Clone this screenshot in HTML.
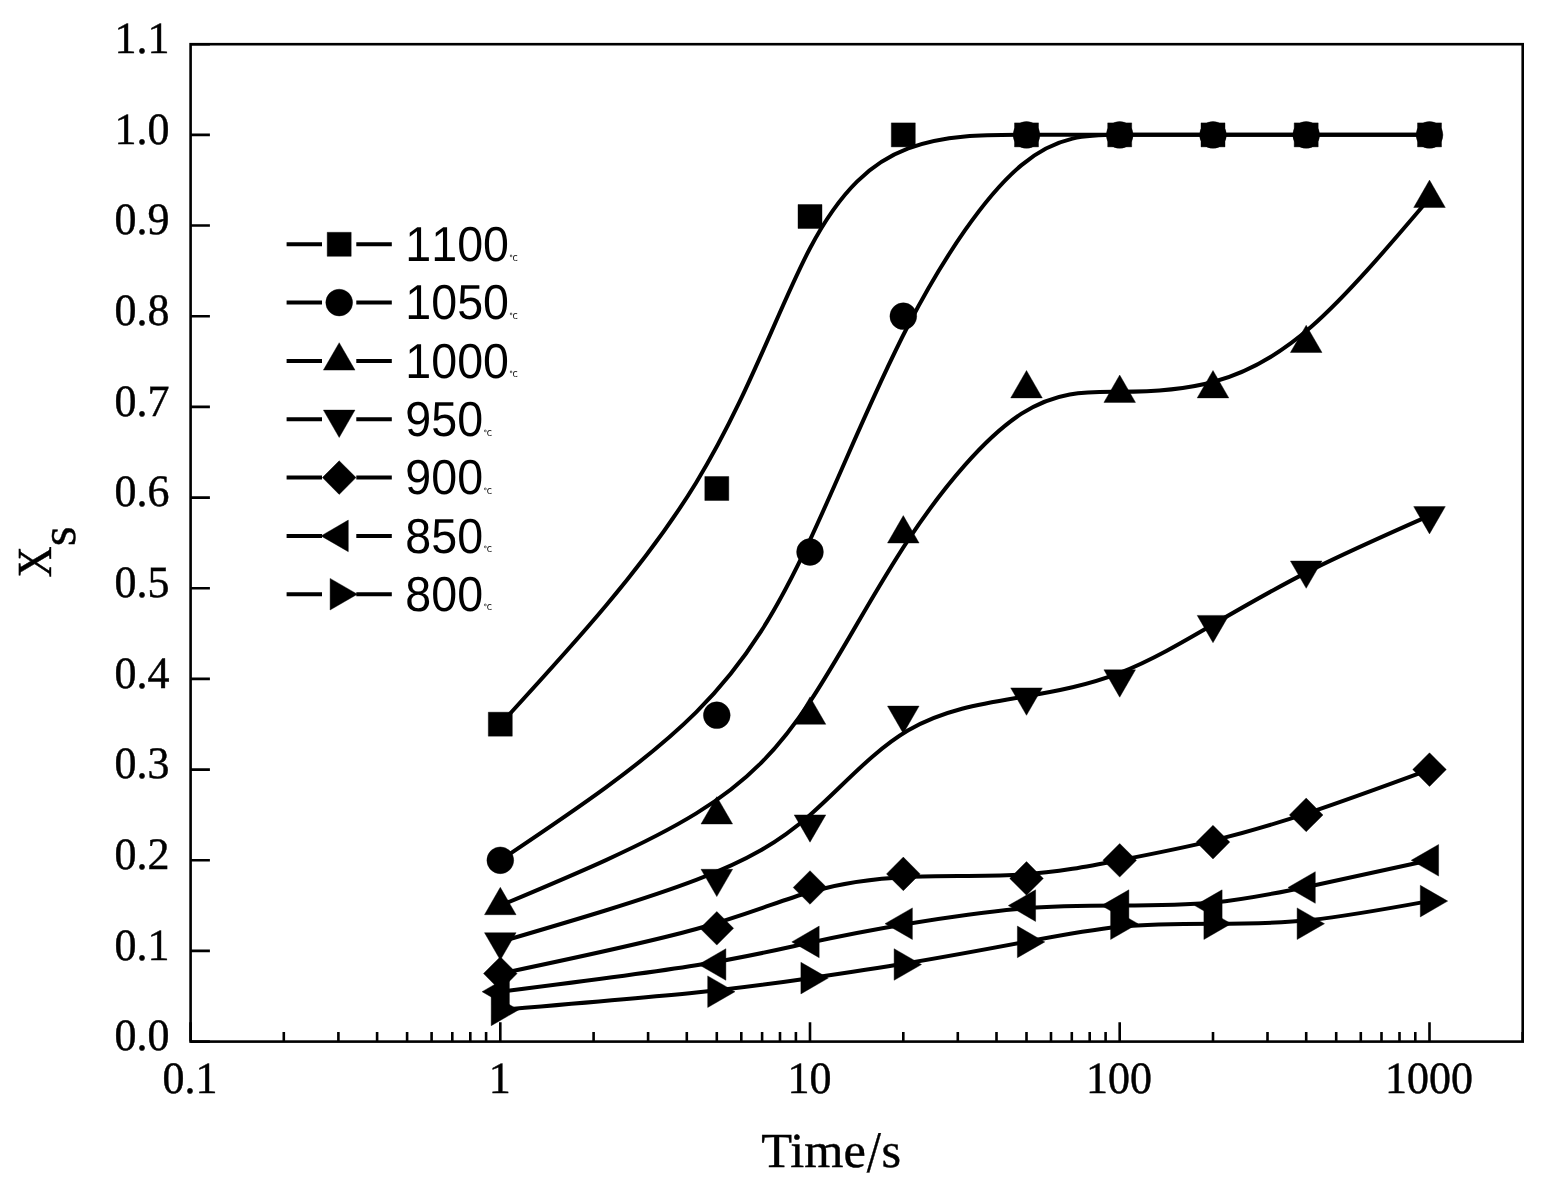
<!DOCTYPE html>
<html lang="en">
<head>
<meta charset="utf-8">
<title>Xs vs Time</title>
<style>
html,body{margin:0;padding:0;background:#fff;}
body{width:1542px;height:1192px;overflow:hidden;}
svg{display:block;}
text{text-rendering:geometricPrecision;}
</style>
</head>
<body>
<svg width="1542" height="1192" viewBox="0 0 1542 1192">
<rect width="1542" height="1192" fill="#fff"/>
<rect x="190.6" y="44.2" width="1332.1" height="997.4" fill="none" stroke="#000" stroke-width="2.6"/>
<path d="M190.6 1041.6h19.3M190.6 950.9h19.3M190.6 860.3h19.3M190.6 769.6h19.3M190.6 678.9h19.3M190.6 588.2h19.3M190.6 497.6h19.3M190.6 406.9h19.3M190.6 316.2h19.3M190.6 225.5h19.3M190.6 134.9h19.3M190.6 44.2h19.3M190.6 1041.6v-19.3M283.8 1041.6v-9.6M338.4 1041.6v-9.6M377.1 1041.6v-9.6M407.1 1041.6v-9.6M431.6 1041.6v-9.6M452.3 1041.6v-9.6M470.3 1041.6v-9.6M486.1 1041.6v-9.6M500.3 1041.6v-19.3M593.6 1041.6v-9.6M648.1 1041.6v-9.6M686.8 1041.6v-9.6M716.8 1041.6v-9.6M741.3 1041.6v-9.6M762.1 1041.6v-9.6M780 1041.6v-9.6M795.9 1041.6v-9.6M810 1041.6v-19.3M903.3 1041.6v-9.6M957.8 1041.6v-9.6M996.5 1041.6v-9.6M1026.5 1041.6v-9.6M1051 1041.6v-9.6M1071.8 1041.6v-9.6M1089.7 1041.6v-9.6M1105.6 1041.6v-9.6M1119.7 1041.6v-19.3M1213 1041.6v-9.6M1267.5 1041.6v-9.6M1306.2 1041.6v-9.6M1336.2 1041.6v-9.6M1360.8 1041.6v-9.6M1381.5 1041.6v-9.6M1399.5 1041.6v-9.6M1415.3 1041.6v-9.6M1429.5 1041.6v-19.3M1522.7 1041.6v-9.6" fill="none" stroke="#000" stroke-width="2.6"/>
<g font-family="'Liberation Serif', serif" font-size="44" fill="#000" stroke="#000" stroke-width="0.45">
<g text-anchor="end">
<text transform="translate(169.4 1050.4) scale(1 1.02)">0.0</text>
<text transform="translate(169.4 959.7) scale(1 1.02)">0.1</text>
<text transform="translate(169.4 869.1) scale(1 1.02)">0.2</text>
<text transform="translate(169.4 778.4) scale(1 1.02)">0.3</text>
<text transform="translate(169.4 687.7) scale(1 1.02)">0.4</text>
<text transform="translate(169.4 597) scale(1 1.02)">0.5</text>
<text transform="translate(169.4 506.4) scale(1 1.02)">0.6</text>
<text transform="translate(169.4 415.7) scale(1 1.02)">0.7</text>
<text transform="translate(169.4 325) scale(1 1.02)">0.8</text>
<text transform="translate(169.4 234.3) scale(1 1.02)">0.9</text>
<text transform="translate(169.4 143.7) scale(1 1.02)">1.0</text>
<text transform="translate(169.4 53) scale(1 1.02)">1.1</text>
</g>
<g text-anchor="middle">
<text transform="translate(190 1093.4) scale(1 1.02)">0.1</text>
<text transform="translate(499.7 1093.4) scale(1 1.02)">1</text>
<text transform="translate(809.4 1093.4) scale(1 1.02)">10</text>
<text transform="translate(1119.1 1093.4) scale(1 1.02)">100</text>
<text transform="translate(1428.9 1093.4) scale(1 1.02)">1000</text>
</g>
</g>
<g font-family="'Liberation Serif', serif" font-size="49" fill="#000" stroke="#000" stroke-width="0.4">
<text y="1167.3"><tspan x="761.3" textLength="104.6" lengthAdjust="spacingAndGlyphs">Time</tspan><tspan x="866.8" y="1172.1" font-size="59" textLength="14.2" lengthAdjust="spacingAndGlyphs">/</tspan><tspan x="881.5" y="1167.3" textLength="19.6" lengthAdjust="spacingAndGlyphs">s</tspan></text>
<g transform="translate(51.1 577.4) rotate(-90)"><text x="0" y="0" textLength="31.2" lengthAdjust="spacingAndGlyphs">X</text><text x="31.2" y="23.9" textLength="20" lengthAdjust="spacingAndGlyphs">s</text></g>
</g>
<g fill="none" stroke="#000" stroke-width="4.0" stroke-linejoin="round" stroke-linecap="butt">
<path d="M500.32 724.25C572.48 645.66 644.64 567.08 696.26 482.45C747.88 397.82 778.96 307.15 810.03 248.21C841.11 189.28 872.19 162.07 908.27 148.47C944.35 134.87 985.43 134.87 1021.51 134.87C1057.59 134.87 1088.67 134.87 1119.75 134.87C1150.83 134.87 1181.91 134.87 1212.98 134.87C1244.06 134.87 1275.14 134.87 1311.22 134.87C1347.30 134.87 1388.38 134.87 1429.47 134.87"/>
<path d="M500.32 860.25C572.48 811.90 644.64 763.54 696.26 712.16C747.88 660.77 778.96 606.37 810.03 539.88C841.11 473.38 872.19 394.80 908.27 325.29C944.35 255.77 985.43 195.32 1021.51 165.10C1057.59 134.87 1088.67 134.87 1119.75 134.87C1150.83 134.87 1181.91 134.87 1212.98 134.87C1244.06 134.87 1275.14 134.87 1311.22 134.87C1347.30 134.87 1388.38 134.87 1429.47 134.87"/>
<path d="M500.32 905.59C572.48 875.37 644.64 845.14 696.26 813.41C747.88 781.67 778.96 748.42 810.03 701.58C841.11 654.73 872.19 594.28 908.27 539.88C944.35 485.47 985.43 437.12 1021.51 413.69C1057.59 390.27 1088.67 391.78 1119.75 391.78C1150.83 391.78 1181.91 390.27 1212.98 381.96C1244.06 373.64 1275.14 358.53 1311.22 326.80C1347.30 295.06 1388.38 246.70 1429.47 198.34"/>
<path d="M500.32 941.86C572.48 920.70 644.64 899.55 696.26 879.90C747.88 860.25 778.96 842.12 810.03 814.92C841.11 787.72 872.19 751.45 908.27 730.29C944.35 709.13 985.43 703.09 1021.51 697.04C1057.59 691.00 1088.67 684.95 1119.75 672.86C1150.83 660.77 1181.91 642.64 1212.98 624.51C1244.06 606.37 1275.14 588.24 1311.22 570.10C1347.30 551.97 1388.38 533.83 1429.47 515.70"/>
<path d="M500.32 973.60C572.48 958.48 644.64 943.37 696.26 929.01C747.88 914.66 778.96 901.06 810.03 891.99C841.11 882.92 872.19 878.39 908.27 876.88C944.35 875.37 985.43 876.88 1021.51 874.61C1057.59 872.34 1088.67 866.30 1119.75 860.25C1150.83 854.21 1181.91 848.16 1212.98 840.61C1244.06 833.05 1275.14 823.99 1311.22 811.90C1347.30 799.81 1388.38 784.69 1429.47 769.58"/>
<path d="M500.32 991.73C572.48 982.66 644.64 973.60 696.26 965.28C747.88 956.97 778.96 949.42 810.03 942.62C841.11 935.82 872.19 929.77 908.27 923.73C944.35 917.68 985.43 911.64 1021.51 908.61C1057.59 905.59 1088.67 905.59 1119.75 905.59C1150.83 905.59 1181.91 905.59 1212.98 902.57C1244.06 899.55 1275.14 893.50 1311.22 885.95C1347.30 878.39 1388.38 869.32 1429.47 860.25"/>
<path d="M500.32 1009.86C572.48 1003.82 644.64 997.77 696.26 992.49C747.88 987.20 778.96 982.66 810.03 978.13C841.11 973.60 872.19 969.06 908.27 963.02C944.35 956.97 985.43 949.42 1021.51 942.62C1057.59 935.82 1088.67 929.77 1119.75 926.75C1150.83 923.73 1181.91 923.73 1212.98 923.73C1244.06 923.73 1275.14 923.73 1311.22 919.95C1347.30 916.17 1388.38 908.61 1429.47 901.06"/>
</g>
<g fill="#000" stroke="#000" stroke-width="0.4" stroke-linejoin="round">
<rect x="488.3" y="712.2" width="24" height="24"/>
<rect x="704.8" y="476.5" width="24" height="24"/>
<rect x="798" y="204.5" width="24" height="24"/>
<rect x="891.3" y="122.9" width="24" height="24"/>
<rect x="1014.5" y="122.9" width="24" height="24"/>
<rect x="1107.7" y="122.9" width="24" height="24"/>
<rect x="1201" y="122.9" width="24" height="24"/>
<rect x="1294.2" y="122.9" width="24" height="24"/>
<rect x="1417.5" y="122.9" width="24" height="24"/>
<circle cx="500.3" cy="860.3" r="13.4"/>
<circle cx="716.8" cy="715.2" r="13.4"/>
<circle cx="810" cy="552" r="13.4"/>
<circle cx="903.3" cy="316.2" r="13.4"/>
<circle cx="1026.5" cy="134.9" r="13.4"/>
<circle cx="1119.7" cy="134.9" r="13.4"/>
<circle cx="1213" cy="134.9" r="13.4"/>
<circle cx="1306.2" cy="134.9" r="13.4"/>
<circle cx="1429.5" cy="134.9" r="13.4"/>
<polygon points="500.3,887.3 484.5,914.7 516.1,914.7"/>
<polygon points="716.8,796.7 701,824 732.6,824"/>
<polygon points="810,696.9 794.2,724.3 825.8,724.3"/>
<polygon points="903.3,515.6 887.5,543 919.1,543"/>
<polygon points="1026.5,370.5 1010.7,397.9 1042.3,397.9"/>
<polygon points="1119.7,375 1103.9,402.4 1135.5,402.4"/>
<polygon points="1213,370.5 1197.2,397.9 1228.8,397.9"/>
<polygon points="1306.2,325.2 1290.4,352.5 1322,352.5"/>
<polygon points="1429.5,180.1 1413.7,207.5 1445.3,207.5"/>
<polygon points="500.3,960.1 484.5,932.7 516.1,932.7"/>
<polygon points="716.8,896.6 701,869.3 732.6,869.3"/>
<polygon points="810,842.2 794.2,814.9 825.8,814.9"/>
<polygon points="903.3,733.4 887.5,706.1 919.1,706.1"/>
<polygon points="1026.5,715.3 1010.7,687.9 1042.3,687.9"/>
<polygon points="1119.7,697.2 1103.9,669.8 1135.5,669.8"/>
<polygon points="1213,642.7 1197.2,615.4 1228.8,615.4"/>
<polygon points="1306.2,588.3 1290.4,561 1322,561"/>
<polygon points="1429.5,533.9 1413.7,506.6 1445.3,506.6"/>
<polygon points="500.3,956.8 517.1,973.6 500.3,990.4 483.5,973.6"/>
<polygon points="716.8,911.5 733.6,928.3 716.8,945.1 700,928.3"/>
<polygon points="810,870.7 826.8,887.5 810,904.3 793.2,887.5"/>
<polygon points="903.3,857.1 920.1,873.9 903.3,890.7 886.5,873.9"/>
<polygon points="1026.5,861.6 1043.3,878.4 1026.5,895.2 1009.7,878.4"/>
<polygon points="1119.7,843.5 1136.5,860.3 1119.7,877.1 1102.9,860.3"/>
<polygon points="1213,825.3 1229.8,842.1 1213,858.9 1196.2,842.1"/>
<polygon points="1306.2,798.1 1323,814.9 1306.2,831.7 1289.4,814.9"/>
<polygon points="1429.5,752.8 1446.3,769.6 1429.5,786.4 1412.7,769.6"/>
<polygon points="482.1,991.7 509.4,975.9 509.4,1007.5"/>
<polygon points="698.6,964.5 725.9,948.7 725.9,980.3"/>
<polygon points="791.8,941.9 819.2,926.1 819.2,957.7"/>
<polygon points="885,923.7 912.4,907.9 912.4,939.5"/>
<polygon points="1008.3,905.6 1035.6,889.8 1035.6,921.4"/>
<polygon points="1101.5,905.6 1128.9,889.8 1128.9,921.4"/>
<polygon points="1194.7,905.6 1222.1,889.8 1222.1,921.4"/>
<polygon points="1288,887.5 1315.3,871.7 1315.3,903.3"/>
<polygon points="1411.2,860.3 1438.6,844.5 1438.6,876.1"/>
<polygon points="518.6,1009.9 491.2,994.1 491.2,1025.7"/>
<polygon points="735,991.7 707.7,975.9 707.7,1007.5"/>
<polygon points="828.3,978.1 800.9,962.3 800.9,993.9"/>
<polygon points="921.5,964.5 894.1,948.7 894.1,980.3"/>
<polygon points="1044.8,941.9 1017.4,926.1 1017.4,957.7"/>
<polygon points="1138,923.7 1110.6,907.9 1110.6,939.5"/>
<polygon points="1231.2,923.7 1203.9,907.9 1203.9,939.5"/>
<polygon points="1324.5,923.7 1297.1,907.9 1297.1,939.5"/>
<polygon points="1447.7,901.1 1420.3,885.3 1420.3,916.9"/>
</g>
<g stroke="#000" stroke-width="4.0" fill="none">
<path d="M286.6 244.3H322M356.3 244.3H391.8M286.6 302.6H322M356.3 302.6H391.8M286.6 360.9H322M356.3 360.9H391.8M286.6 419.3H322M356.3 419.3H391.8M286.6 477.6H322M356.3 477.6H391.8M286.6 535.9H322M356.3 535.9H391.8M286.6 594.2H322M356.3 594.2H391.8"/>
</g>
<g fill="#000" stroke="#000" stroke-width="0.4" stroke-linejoin="round">
<rect x="327.2" y="232.3" width="24" height="24"/>
<circle cx="339.2" cy="302.6" r="13.4"/>
<polygon points="339.2,342.7 323.4,370.1 355,370.1"/>
<polygon points="339.2,437.5 323.4,410.1 355,410.1"/>
<polygon points="339.2,460.8 356,477.6 339.2,494.4 322.4,477.6"/>
<polygon points="321,535.9 348.3,520.1 348.3,551.7"/>
<polygon points="357.4,594.2 330.1,578.4 330.1,610"/>
</g>
<g font-family="'Liberation Sans', sans-serif" font-size="46.6" fill="#000" style="font-kerning:none">
<text transform="translate(405.3 261.1) scale(1 1.055)">1100<tspan x="104.3" y="-0.55" font-family="'Liberation Sans', 'Noto Sans CJK SC', sans-serif" font-size="7.7" textLength="8.4" lengthAdjust="spacingAndGlyphs">℃</tspan></text>
<text transform="translate(405.3 319.4) scale(1 1.055)">1050<tspan x="104.3" y="-0.55" font-family="'Liberation Sans', 'Noto Sans CJK SC', sans-serif" font-size="7.7" textLength="8.4" lengthAdjust="spacingAndGlyphs">℃</tspan></text>
<text transform="translate(405.3 377.7) scale(1 1.055)">1000<tspan x="104.3" y="-0.55" font-family="'Liberation Sans', 'Noto Sans CJK SC', sans-serif" font-size="7.7" textLength="8.4" lengthAdjust="spacingAndGlyphs">℃</tspan></text>
<text transform="translate(405.3 436.1) scale(1 1.055)">950<tspan x="78.4" y="-0.55" font-family="'Liberation Sans', 'Noto Sans CJK SC', sans-serif" font-size="7.7" textLength="8.4" lengthAdjust="spacingAndGlyphs">℃</tspan></text>
<text transform="translate(405.3 494.4) scale(1 1.055)">900<tspan x="78.4" y="-0.55" font-family="'Liberation Sans', 'Noto Sans CJK SC', sans-serif" font-size="7.7" textLength="8.4" lengthAdjust="spacingAndGlyphs">℃</tspan></text>
<text transform="translate(405.3 552.7) scale(1 1.055)">850<tspan x="78.4" y="-0.55" font-family="'Liberation Sans', 'Noto Sans CJK SC', sans-serif" font-size="7.7" textLength="8.4" lengthAdjust="spacingAndGlyphs">℃</tspan></text>
<text transform="translate(405.3 611) scale(1 1.055)">800<tspan x="78.4" y="-0.55" font-family="'Liberation Sans', 'Noto Sans CJK SC', sans-serif" font-size="7.7" textLength="8.4" lengthAdjust="spacingAndGlyphs">℃</tspan></text>
</g>
</svg>
</body>
</html>
